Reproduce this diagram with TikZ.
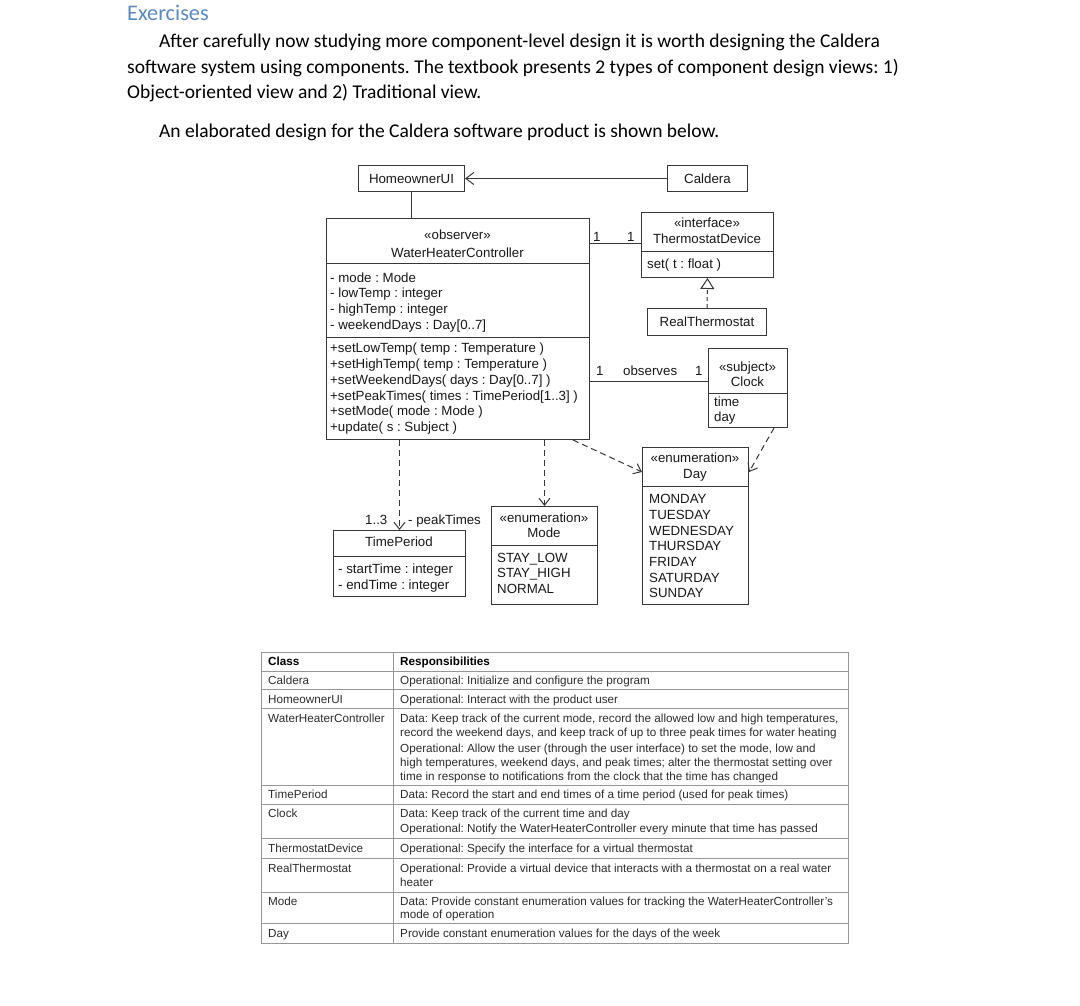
\documentclass[tikz,border=0pt]{standalone}
\usepackage{fontspec}
\setmainfont{Liberation Sans}
\newfontfamily\calibri{Carlito}
\usetikzlibrary{arrows.meta,calc}
\definecolor{headblue}{RGB}{91,139,193}
\definecolor{ln}{RGB}{55,55,55}
\definecolor{tx}{RGB}{25,25,25}
\definecolor{tl}{RGB}{150,150,150}
\definecolor{tt}{RGB}{45,45,45}
\frenchspacing
\begin{document}
\frenchspacing
\begin{tikzpicture}[x=1pt,y=-1pt,
  box/.style={draw=ln, line width=1pt, rectangle, inner sep=0pt, anchor=north west,
    font=\fontsize{13.3}{15}\selectfont, text=tx},
  txt/.style={inner sep=0pt, anchor=west, text height=9.5pt, text depth=0pt,
    font=\fontsize{13.3}{15}\selectfont, text=tx},
  ctxt/.style={txt, anchor=center},
  dep/.style={draw=ln, line width=1pt, dash pattern=on 6pt off 4pt,
    -{Straight Barb[length=7pt,width=11pt]}},
  assoc/.style={draw=ln, line width=1pt},
  tabline/.style={draw=tl, line width=0.9pt},
  ttxt/.style={inner sep=0pt, anchor=west, text height=8.4pt, text depth=0pt,
    font=\fontsize{11.7}{13}\selectfont, text=tt},
  thead/.style={ttxt, font=\bfseries\fontsize{11.7}{13}\selectfont, text=black},
  para/.style={inner sep=0pt, anchor=base west, font=\calibri\fontsize{19.5}{23}\selectfont, text=black}
]
\fill[white] (0,0) rectangle (1080,1005);
\useasboundingbox (0,0) rectangle (1080,1005);

% ---------- heading and paragraph ----------
\node[para, font=\calibri\fontsize{22.3}{25}\selectfont, text=headblue] (ex) at (127,20.5) {Exercises};
\node[para] (p1) at (159,47) {After carefully now studying more component-level design it is worth designing the Caldera};
\node[para] (p2) at (127,73) {software system using components. The textbook presents 2 types of component design views: 1)};
\node[para] (p3) at (127,98) {Object-oriented view and 2) Traditional view.};
\node[para] (p4) at (159,137) {An elaborated design for the Caldera software product is shown below.};

% ---------- class boxes ----------
\node[box, minimum width=106, minimum height=26] (homeowner) at (358,165) {HomeownerUI};
\node[box, minimum width=80, minimum height=26] (caldera) at (667,165) {Caldera};

\node[box, minimum width=263, minimum height=221] (whc) at (326,218) {};
\draw[assoc] ($(whc.north west)+(0,45.3)$) -- ($(whc.north east)+(0,45.3)$);
\draw[assoc] ($(whc.north west)+(0,119.5)$) -- ($(whc.north east)+(0,119.5)$);
\node[ctxt] (whc-st) at (457.5,235) {«observer»};
\node[ctxt] (whc-nm) at (457.5,252.5) {WaterHeaterController};
\node[txt] (whc-a1) at (330,277.5) {- mode : Mode};
\node[txt] (whc-a2) at (330,293) {- lowTemp : integer};
\node[txt] (whc-a3) at (330,308.7) {- highTemp : integer};
\node[txt] (whc-a4) at (330,324.5) {- weekendDays : Day[0..7]};
\node[txt] (whc-m1) at (330,348) {+setLowTemp( temp : Temperature )};
\node[txt] (whc-m2) at (330,363.8) {+setHighTemp( temp : Temperature )};
\node[txt] (whc-m3) at (330,379.6) {+setWeekendDays( days : Day[0..7] )};
\node[txt] (whc-m4) at (330,395.4) {+setPeakTimes( times : TimePeriod[1..3] )};
\node[txt] (whc-m5) at (330,411.2) {+setMode( mode : Mode )};
\node[txt] (whc-m6) at (330,427) {+update( s : Subject )};

\node[box, minimum width=132, minimum height=65] (td) at (641,212) {};
\draw[assoc] ($(td.north west)+(0,39)$) -- ($(td.north east)+(0,39)$);
\node[ctxt] (td-st) at (707,222.5) {«interface»};
\node[ctxt] (td-nm) at (707,238.5) {ThermostatDevice};
\node[txt] (td-m1) at (647,264) {set( t : float )};

\node[box, minimum width=119, minimum height=27] (rt) at (647,308) {RealThermostat};

\node[box, minimum width=79, minimum height=79] (clock) at (708,348) {};
\draw[assoc] ($(clock.north west)+(0,45)$) -- ($(clock.north east)+(0,45)$);
\node[ctxt] (ck-st) at (747.5,366.5) {«subject»};
\node[ctxt] (ck-nm) at (747.5,382) {Clock};
\node[txt] (ck-a1) at (714,401.5) {time};
\node[txt] (ck-a2) at (714,417) {day};

\node[box, minimum width=106, minimum height=157] (day) at (642,447) {};
\draw[assoc] ($(day.north west)+(0,39)$) -- ($(day.north east)+(0,39)$);
\node[ctxt] (day-st) at (695,458) {«enumeration»};
\node[ctxt] (day-nm) at (695,473.5) {Day};
\node[txt] (day-1) at (649,499) {MONDAY};
\node[txt] (day-2) at (649,514.7) {TUESDAY};
\node[txt] (day-3) at (649,530.4) {WEDNESDAY};
\node[txt] (day-4) at (649,546.1) {THURSDAY};
\node[txt] (day-5) at (649,561.8) {FRIDAY};
\node[txt] (day-6) at (649,577.5) {SATURDAY};
\node[txt] (day-7) at (649,593.2) {SUNDAY};

\node[box, minimum width=106, minimum height=98] (mode) at (491,506) {};
\draw[assoc] ($(mode.north west)+(0,39)$) -- ($(mode.north east)+(0,39)$);
\node[ctxt] (mode-st) at (544,517.5) {«enumeration»};
\node[ctxt] (mode-nm) at (544,532.5) {Mode};
\node[txt] (mode-1) at (497,557.5) {STAY\_LOW};
\node[txt] (mode-2) at (497,573.2) {STAY\_HIGH};
\node[txt] (mode-3) at (497,589) {NORMAL};

\node[box, minimum width=132, minimum height=66] (tp) at (333,530) {};
\draw[assoc] ($(tp.north west)+(0,26)$) -- ($(tp.north east)+(0,26)$);
\node[ctxt] (tp-nm) at (399,541.5) {TimePeriod};
\node[txt] (tp-a1) at (338,569) {- startTime : integer};
\node[txt] (tp-a2) at (338,585) {- endTime : integer};

% ---------- connectors ----------
\draw[assoc, -{Straight Barb[length=8pt,width=12pt]}] (caldera.west) -- (homeowner.east);
\draw[assoc] (homeowner.south) -- (homeowner.south |- whc.north);
\coordinate (tdL) at ($(td.north west)+(0,31)$);
\draw[assoc] (whc.east |- tdL) -- (tdL);
\node[txt] (m1a) at (593,237) {1};
\node[txt] (m1b) at (627,237) {1};
\coordinate (obsR) at ($(clock.north west)+(0,33)$);
\draw[assoc] (whc.east |- obsR) -- (obsR);
\node[txt] (m2a) at (596,371) {1};
\node[txt] (obs) at (623,371) {observes};
\node[txt] (m2b) at (695,371) {1};
\draw[draw=ln, line width=1pt, dash pattern=on 4pt off 3pt,
  -{Triangle[open, length=11pt, width=14pt]}] (rt.north) -- (td.south);
\draw[dep] (whc.south -| tp.north) -- (tp.north);
\draw[dep] (whc.south -| mode.north) -- (mode.north);
\draw[dep] ($(whc.south east)+(-17,0)$) -- ($(day.north west)+(0,25)$);
\draw[dep] ($(clock.south east)+(-14,0)$) -- ($(day.north east)+(0,25)$);
\node[txt] (mult) at (365,519.5) {1..3};
\node[txt] (role) at (408,519.5) {- peakTimes};

% ---------- table ----------
\draw[tabline] (261,652) rectangle (848,943);
\draw[tabline] (393,652) -- (393,943);
\foreach \yy in {671,689.5,708.3,785,804,838,858,892,923}
  \draw[tabline] (261,\yy) -- (848,\yy);

\node[thead] (th1) at (268,661.5) {Class};
\node[thead] (th2) at (400,661.5) {Responsibilities};
\node[ttxt] (c1) at (268,680) {Caldera};
\node[ttxt] (r1) at (400,680) {Operational: Initialize and configure the program};
\node[ttxt] (c2) at (268,699) {HomeownerUI};
\node[ttxt] (r2) at (400,699) {Operational: Interact with the product user};
\node[ttxt] (c3) at (268,718.5) {WaterHeaterController};
\node[ttxt] (r3a) at (400,718.5) {Data: Keep track of the current mode, record the allowed low and high temperatures,};
\node[ttxt] (r3b) at (400,732.5) {record the weekend days, and keep track of up to three peak times for water heating};
\node[ttxt] (r3c) at (400,748) {Operational: Allow the user (through the user interface) to set the mode, low and};
\node[ttxt] (r3d) at (400,762) {high temperatures, weekend days, and peak times; alter the thermostat setting over};
\node[ttxt] (r3e) at (400,776) {time in response to notifications from the clock that the time has changed};
\node[ttxt] (c4) at (268,794.5) {TimePeriod};
\node[ttxt] (r4) at (400,794.5) {Data: Record the start and end times of a time period (used for peak times)};
\node[ttxt] (c5) at (268,813.5) {Clock};
\node[ttxt] (r5a) at (400,813.5) {Data: Keep track of the current time and day};
\node[ttxt] (r5b) at (400,828) {Operational: Notify the WaterHeaterController every minute that time has passed};
\node[ttxt] (c6) at (268,848.5) {ThermostatDevice};
\node[ttxt] (r6) at (400,848.5) {Operational: Specify the interface for a virtual thermostat};
\node[ttxt] (c7) at (268,868) {RealThermostat};
\node[ttxt] (r7a) at (400,868) {Operational: Provide a virtual device that interacts with a thermostat on a real water};
\node[ttxt] (r7b) at (400,882) {heater};
\node[ttxt] (c8) at (268,901) {Mode};
\node[ttxt] (r8a) at (400,901) {Data: Provide constant enumeration values for tracking the WaterHeaterController's};
\node[ttxt] (r8b) at (400,914.5) {mode of operation};
\node[ttxt] (c9) at (268,933.5) {Day};
\node[ttxt] (r9) at (400,933.5) {Provide constant enumeration values for the days of the week};
\end{tikzpicture}
\end{document}
